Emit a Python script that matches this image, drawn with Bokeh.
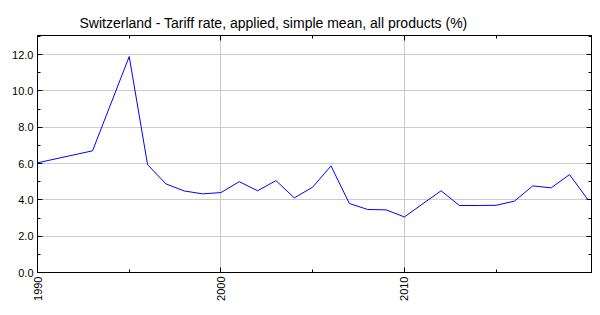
from bokeh.plotting import figure
from bokeh.models import LinearAxis, FixedTicker, Range1d, NumeralTickFormatter, Title, CustomJSTickFormatter
from bokeh.embed import file_html
from bokeh.resources import INLINE

years = [1990, 1993, 1995, 1996, 1997, 1998, 1999, 2000, 2001, 2002, 2003, 2004,
         2005, 2006, 2007, 2008, 2009, 2010, 2012, 2013, 2014, 2015, 2016, 2017,
         2018, 2019, 2020]
values = [6.04, 6.70, 11.89, 5.94, 4.88, 4.49, 4.33, 4.40, 5.00, 4.50, 5.06, 4.11,
          4.70, 5.87, 3.80, 3.47, 3.45, 3.06, 4.50, 3.69, 3.69, 3.70, 3.93, 4.77,
          4.66, 5.39, 4.02]
x_major = [1990, 2000, 2010]
x_minor = [1995, 2005, 2015]
y_major = [0, 2, 4, 6, 8, 10, 12]
y_minor = [1, 3, 5, 7, 9, 11, 13]
title_text = "Switzerland - Tariff rate, applied, simple mean, all products (%)"

FONT = "Liberation Sans"

p = figure(width=600, height=315, output_backend="svg", toolbar_location=None,
           x_range=Range1d(1990, 2020.2), y_range=Range1d(0, 13.05),
           min_border_left=37, min_border_right=9, min_border_top=35, min_border_bottom=43,
           x_axis_location=None, y_axis_location=None)
p.background_fill_color = "white"
p.border_fill_color = "white"
p.outline_line_color = "black"
p.outline_line_width = 1

p.title = Title(text=title_text, text_font=FONT, text_font_size="14px",
                text_font_style="normal", text_color="#000000", align="left",
                offset=42)

def style_axis(ax, ticks, minor, labels=True):
    ax.ticker = FixedTicker(ticks=ticks, minor_ticks=minor)
    ax.axis_line_color = "black"
    ax.major_tick_in = 5
    ax.major_tick_out = 0
    ax.minor_tick_in = 3
    ax.minor_tick_out = 0
    ax.major_tick_line_color = "black"
    ax.minor_tick_line_color = "black"
    ax.major_label_text_font = FONT
    ax.major_label_text_font_size = "11px"
    ax.major_label_text_color = "#000000"
    if not labels:
        ax.formatter = CustomJSTickFormatter(code="return '';")
        ax.major_label_standoff = 0

left = LinearAxis(formatter=NumeralTickFormatter(format="0.0"))
style_axis(left, y_major, y_minor)
left.major_label_standoff = 4
p.add_layout(left, "left")

right = LinearAxis()
style_axis(right, y_major, y_minor, labels=False)
p.add_layout(right, "right")

bottom = LinearAxis()
style_axis(bottom, x_major, x_minor)
bottom.major_label_orientation = 1.5708
bottom.major_label_standoff = 4
p.add_layout(bottom, "below")

top = LinearAxis()
style_axis(top, x_major, x_minor, labels=False)
p.add_layout(top, "above")

p.xgrid.ticker = FixedTicker(ticks=x_major)
p.ygrid.ticker = FixedTicker(ticks=y_major)
p.grid.grid_line_color = "#cccccc"
p.grid.grid_line_width = 1

p.line(years, values, line_color="#0000ff", line_width=1)

open("out.html", "w").write(file_html(p, INLINE))
